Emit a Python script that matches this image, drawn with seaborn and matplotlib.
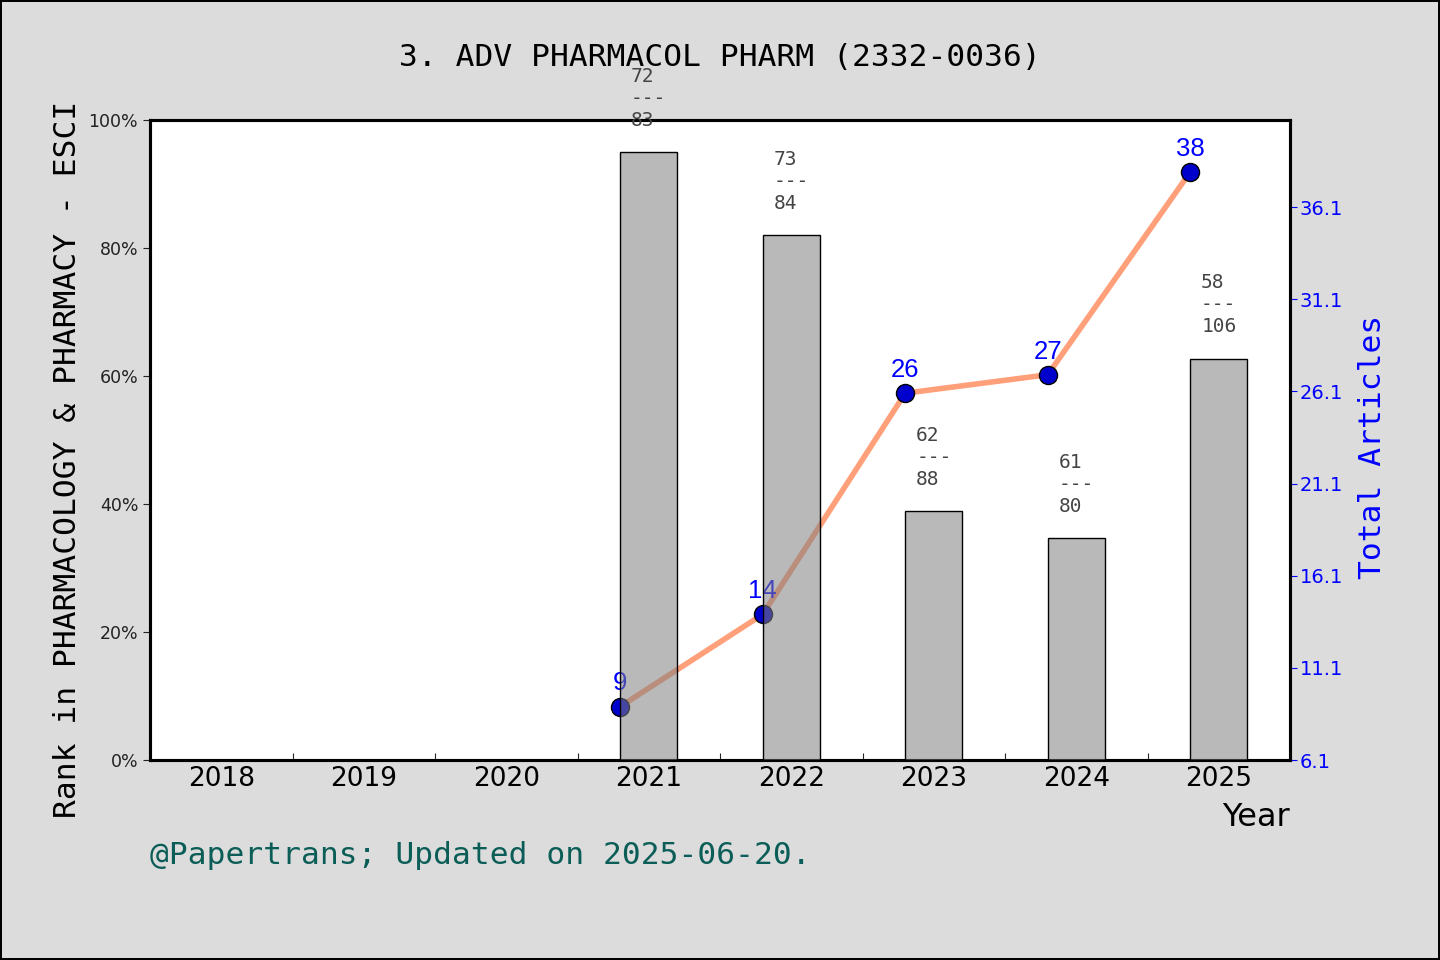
import numpy as np
import pandas as pd
import matplotlib
matplotlib.use('Agg')
import matplotlib.pyplot as plt
from matplotlib.ticker import FixedLocator, PercentFormatter
import seaborn as sns

# data
years = ['2018', '2019', '2020', '2021', '2022', '2023', '2024', '2025']
bar_years = ['2021', '2022', '2023', '2024', '2025']
rank_pct = [95.0, 82.0, 38.9, 34.7, 62.7]
ranks = [72, 73, 62, 61, 58]
totals = [83, 84, 88, 80, 106]
articles = [9, 14, 26, 27, 38]
right_ticks = [6.1, 11.1, 16.1, 21.1, 26.1, 31.1, 36.1]

title = '3. ADV PHARMACOL PHARM (2332-0036)'
ylabel_left = 'Rank in PHARMACOLOGY & PHARMACY - ESCI'
ylabel_right = 'Total Articles'
watermark = '@Papertrans; Updated on 2025-06-20.'

sns.set_theme(style='white')
plt.rcParams['font.family'] = ['DejaVu Sans']

bg = '#dcdcdc'
bar_w = 0.4

fig = plt.figure(figsize=(14.4, 9.6), dpi=100, facecolor=bg,
                 edgecolor='black', linewidth=1.5)
ax = fig.add_axes([150 / 1440, 1 - 760 / 960, 1140 / 1440, 640 / 960])
ax2 = ax.twinx()

# bars sit above the line, so the bar axes is drawn last with no background
ax.set_zorder(2)
ax.patch.set_visible(False)
ax2.set_zorder(1)
ax2.patch.set_visible(True)
ax2.patch.set_facecolor('white')

df = pd.DataFrame({'year': bar_years, 'pct': rank_pct})
sns.barplot(data=df, x='year', y='pct', order=years, ax=ax, width=bar_w,
            color='gray', edgecolor='black', linewidth=1, zorder=3)
for p in ax.patches:
    p.set_facecolor((0.5, 0.5, 0.5, 0.55))
    p.set_edgecolor('black')

# rank / total labels above the bars
for yr, pct, r, t in zip(bar_years, rank_pct, ranks, totals):
    i = years.index(yr)
    ax.annotate(f'{r}\n---\n{t}', xy=(i, pct), xytext=(0, 16),
                textcoords='offset points', ha='center', va='bottom',
                multialignment='left', fontsize=14, color='#444444',
                family='DejaVu Sans Mono', linespacing=1.2,
                annotation_clip=False)

# articles line on the right axis, at the left edge of each bar
line_x = [years.index(yr) - bar_w / 2 for yr in bar_years]
sns.lineplot(x=line_x, y=articles, ax=ax2, color='#ffa07a', linewidth=4,
             marker='o', markersize=13, markerfacecolor='#0000cc',
             markeredgecolor='black', markeredgewidth=1, sort=False)
for x, a in zip(line_x, articles):
    ax2.annotate(str(a), xy=(x, a), xytext=(0, 8), textcoords='offset points',
                 ha='center', va='bottom', fontsize=18.5, color='blue',
                 family='Liberation Sans')

ax.set_xlim(-0.5, len(years) - 0.5)
ax.set_ylim(0, 100)
ax2.set_ylim(6.1, 40.82)

ax.yaxis.set_major_locator(FixedLocator([0, 20, 40, 60, 80, 100]))
ax.yaxis.set_major_formatter(PercentFormatter(decimals=0))
ax.tick_params(axis='y', which='major', direction='out', length=5, width=0.8,
               labelsize=12.5, colors='#222222', left=True)
ax.tick_params(axis='x', which='major', length=0, labelsize=19, pad=4,
               colors='black')
ax.xaxis.set_minor_locator(FixedLocator(np.arange(0.5, len(years) - 1, 1)))
ax.tick_params(axis='x', which='minor', direction='in', length=5, width=0.8,
               bottom=True)

ax2.yaxis.set_major_locator(FixedLocator(right_ticks))
ax2.set_yticklabels([f'{v:.1f}' for v in right_ticks])
ax2.tick_params(axis='y', direction='out', length=5, width=0.8, labelsize=14,
                colors='blue', right=True, pad=2)
for lab in ax2.get_yticklabels():
    lab.set_color('blue')

for a in (ax, ax2):
    for s in a.spines.values():
        s.set_color('black')
        s.set_linewidth(2.2)
        s.set_visible(True)

ax.set_xlabel('Year', fontsize=23, color='black')
ax.xaxis.set_label_coords(1.0, -0.065)
ax.xaxis.label.set_ha('right')
ax.set_ylabel(ylabel_left, fontsize=22.5, family='DejaVu Sans Mono',
              color='black')
ax.yaxis.set_label_coords(-0.060, 0.47)
ax2.set_ylabel(ylabel_right, fontsize=22.5, family='DejaVu Sans Mono',
               color='blue')
ax2.yaxis.set_label_coords(1.060, 0.49)

fig.text(720 / 1440, 1 - 57 / 960, title, ha='center', va='center',
         fontsize=22.5, family='DejaVu Sans Mono', color='black')
fig.text(150 / 1440, 1 - 855 / 960, watermark, ha='left', va='center',
         fontsize=22.5, family='DejaVu Sans Mono', color='#0b5d57')

fig.savefig('out.png', dpi=100, facecolor=bg, edgecolor='black')
